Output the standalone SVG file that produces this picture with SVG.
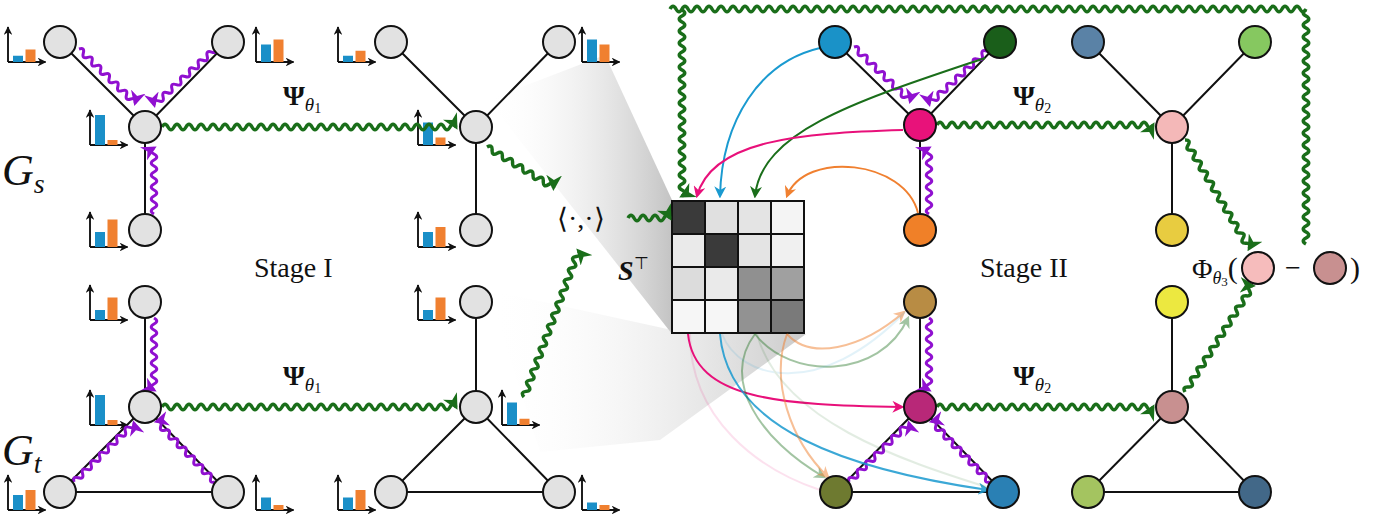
<svg xmlns="http://www.w3.org/2000/svg" xmlns:xlink="http://www.w3.org/1999/xlink" width="1373" height="520" viewBox="0 0 1373 520">
<style>
.n{stroke:#111;stroke-width:2}
.e{stroke:#111;stroke-width:2;fill:none}
.wp{fill:none;stroke:#9010d0;stroke-width:3}
.wg{fill:none;stroke:#1a6e1a;stroke-width:3.5}
.ax{fill:none;stroke:#111;stroke-width:1.5}
.t{font-family:"Liberation Serif",serif;fill:#111}
.c{fill:none;stroke-width:2}
</style>
<defs>
<marker id="mp" viewBox="0 0 10 10" refX="8" refY="5" markerWidth="5" markerHeight="5" orient="auto" markerUnits="strokeWidth"><path d="M0 0L10 5L0 10L3 5z" fill="#9010d0"/></marker>
<marker id="mg" viewBox="0 0 10 10" refX="8" refY="5" markerWidth="4.5" markerHeight="4.5" orient="auto" markerUnits="strokeWidth"><path d="M0 0L10 5L0 10L3 5z" fill="#1a6e1a"/></marker>
<marker id="ma" viewBox="0 0 10 10" refX="9" refY="5" markerWidth="7" markerHeight="7" orient="auto" markerUnits="userSpaceOnUse"><path d="M0 0L10 5L0 10L3 5z" fill="#111"/></marker>
<marker id="mc" viewBox="0 0 10 10" refX="8" refY="5" markerWidth="6" markerHeight="6" orient="auto" markerUnits="strokeWidth"><path d="M0 0L10 5L0 10L3 5z" fill="context-stroke"/></marker>
<path id="w42" d="M0 0q3 -5.5 6 0t6 0t6 0t6 0t6 0t6 0t6 0"/>
<path id="w66" d="M0 0q3 -5.5 6 0t6 0t6 0t6 0t6 0t6 0t6 0t6 0t6 0t6 0t6 0"/>
<path id="w72" d="M0 0q3 -5.5 6 0t6 0t6 0t6 0t6 0t6 0t6 0t6 0t6 0t6 0t6 0t6 0"/>
<path id="w78" d="M0 0q3 -5.5 6 0t6 0t6 0t6 0t6 0t6 0t6 0t6 0t6 0t6 0t6 0t6 0t6 0"/>
<path id="w84" d="M0 0q3 -5.5 6 0t6 0t6 0t6 0t6 0t6 0t6 0t6 0t6 0t6 0t6 0t6 0t6 0t6 0"/>
<path id="w126" d="M0 0q3 -5.5 6 0t6 0t6 0t6 0t6 0t6 0t6 0t6 0t6 0t6 0t6 0t6 0t6 0t6 0t6 0t6 0t6 0t6 0t6 0t6 0t6 0"/>
<path id="w156" d="M0 0q3 -5.5 6 0t6 0t6 0t6 0t6 0t6 0t6 0t6 0t6 0t6 0t6 0t6 0t6 0t6 0t6 0t6 0t6 0t6 0t6 0t6 0t6 0t6 0t6 0t6 0t6 0t6 0"/>
<path id="w186" d="M0 0q3 -5.5 6 0t6 0t6 0t6 0t6 0t6 0t6 0t6 0t6 0t6 0t6 0t6 0t6 0t6 0t6 0t6 0t6 0t6 0t6 0t6 0t6 0t6 0t6 0t6 0t6 0t6 0t6 0t6 0t6 0t6 0t6 0"/>
<path id="w216" d="M0 0q3 -5.5 6 0t6 0t6 0t6 0t6 0t6 0t6 0t6 0t6 0t6 0t6 0t6 0t6 0t6 0t6 0t6 0t6 0t6 0t6 0t6 0t6 0t6 0t6 0t6 0t6 0t6 0t6 0t6 0t6 0t6 0t6 0t6 0t6 0t6 0t6 0t6 0"/>
<path id="w234" d="M0 0q3 -5.5 6 0t6 0t6 0t6 0t6 0t6 0t6 0t6 0t6 0t6 0t6 0t6 0t6 0t6 0t6 0t6 0t6 0t6 0t6 0t6 0t6 0t6 0t6 0t6 0t6 0t6 0t6 0t6 0t6 0t6 0t6 0t6 0t6 0t6 0t6 0t6 0t6 0t6 0t6 0"/>
<path id="w294" d="M0 0q3 -5.5 6 0t6 0t6 0t6 0t6 0t6 0t6 0t6 0t6 0t6 0t6 0t6 0t6 0t6 0t6 0t6 0t6 0t6 0t6 0t6 0t6 0t6 0t6 0t6 0t6 0t6 0t6 0t6 0t6 0t6 0t6 0t6 0t6 0t6 0t6 0t6 0t6 0t6 0t6 0t6 0t6 0t6 0t6 0t6 0t6 0t6 0t6 0t6 0t6 0"/>
<path id="w312" d="M0 0q3 -5.5 6 0t6 0t6 0t6 0t6 0t6 0t6 0t6 0t6 0t6 0t6 0t6 0t6 0t6 0t6 0t6 0t6 0t6 0t6 0t6 0t6 0t6 0t6 0t6 0t6 0t6 0t6 0t6 0t6 0t6 0t6 0t6 0t6 0t6 0t6 0t6 0t6 0t6 0t6 0t6 0t6 0t6 0t6 0t6 0t6 0t6 0t6 0t6 0t6 0t6 0t6 0t6 0t6 0t6 0"/>
<linearGradient id="g1" x1="0" y1="0" x2="1" y2="0"><stop offset="0" stop-color="#fff" stop-opacity="0"/><stop offset="1" stop-color="#aaa" stop-opacity="0.7"/></linearGradient>
<linearGradient id="g2" x1="0" y1="0" x2="1" y2="0"><stop offset="0" stop-color="#fff" stop-opacity="0"/><stop offset="1" stop-color="#b4b4b4" stop-opacity="0.7"/></linearGradient>
<g id="ch"><path class="ax" d="M0 0V-28" marker-end="url(#ma)"/><path class="ax" d="M0 0H30" marker-end="url(#ma)"/></g>
</defs>
<rect width="1373" height="520" fill="#fff"/>
<g id="shade">
<polygon points="488,100 605,55 672,200 672,334" fill="url(#g1)"/>
<polygon points="488,290 672,330 806,334 660,440 540,452" fill="url(#g2)"/>
</g>
<g id="edges">
<path class="e" d="M60 42L145 127L228 42M145 127V230"/>
<path class="e" d="M391 42L476 127L559 42M476 127V230"/>
<path class="e" d="M145 302V407L60 492H228L145 407"/>
<path class="e" d="M476 302V407L391 492H559L476 407"/>
<path class="e" d="M835 42L920 125L1000 42M920 125V230"/>
<path class="e" d="M1088 42L1172 127L1255 42M1172 127V230"/>
<path class="e" d="M920 302V407L836 492H1003L920 407"/>
<path class="e" d="M1172 302V407L1088 492H1255L1172 407"/>
</g>
<g id="charts">
<g transform="translate(8,62) scale(1.25)"><use href="#ch"/><rect x="4" y="-5" width="8" height="5" fill="#1a8fc8"/><rect x="14" y="-10" width="8" height="10" fill="#f08030"/></g>
<g transform="translate(256,62) scale(1.25)"><use href="#ch"/><rect x="4" y="-14" width="8" height="14" fill="#1a8fc8"/><rect x="14" y="-18" width="8" height="18" fill="#f08030"/></g>
<g transform="translate(90,145) scale(1.25)"><use href="#ch"/><rect x="4" y="-24" width="8" height="24" fill="#1a8fc8"/><rect x="14" y="-4" width="8" height="4" fill="#f08030"/></g>
<g transform="translate(90,247) scale(1.25)"><use href="#ch"/><rect x="4" y="-12" width="8" height="12" fill="#1a8fc8"/><rect x="14" y="-22" width="8" height="22" fill="#f08030"/></g>
<g transform="translate(338,62) scale(1.25)"><use href="#ch"/><rect x="4" y="-5" width="8" height="5" fill="#1a8fc8"/><rect x="14" y="-9" width="8" height="9" fill="#f08030"/></g>
<g transform="translate(582,62) scale(1.25)"><use href="#ch"/><rect x="4" y="-18" width="8" height="18" fill="#1a8fc8"/><rect x="14" y="-14" width="8" height="14" fill="#f08030"/></g>
<g transform="translate(418,145) scale(1.25)"><use href="#ch"/><rect x="4" y="-18" width="8" height="18" fill="#1a8fc8"/><rect x="14" y="-6" width="8" height="6" fill="#f08030"/></g>
<g transform="translate(418,247) scale(1.25)"><use href="#ch"/><rect x="4" y="-12" width="8" height="12" fill="#1a8fc8"/><rect x="14" y="-16" width="8" height="16" fill="#f08030"/></g>
<g transform="translate(90,320) scale(1.25)"><use href="#ch"/><rect x="4" y="-8" width="8" height="8" fill="#1a8fc8"/><rect x="14" y="-18" width="8" height="18" fill="#f08030"/></g>
<g transform="translate(90,425) scale(1.25)"><use href="#ch"/><rect x="4" y="-24" width="8" height="24" fill="#1a8fc8"/><rect x="14" y="-4" width="8" height="4" fill="#f08030"/></g>
<g transform="translate(8,510) scale(1.25)"><use href="#ch"/><rect x="4" y="-12" width="8" height="12" fill="#1a8fc8"/><rect x="14" y="-16" width="8" height="16" fill="#f08030"/></g>
<g transform="translate(256,510) scale(1.25)"><use href="#ch"/><rect x="4" y="-10" width="8" height="10" fill="#1a8fc8"/><rect x="14" y="-4" width="8" height="4" fill="#f08030"/></g>
<g transform="translate(418,320) scale(1.25)"><use href="#ch"/><rect x="4" y="-8" width="8" height="8" fill="#1a8fc8"/><rect x="14" y="-18" width="8" height="18" fill="#f08030"/></g>
<g transform="translate(502,425) scale(1.25)"><use href="#ch"/><rect x="4" y="-18" width="8" height="18" fill="#1a8fc8"/><rect x="14" y="-5" width="8" height="5" fill="#f08030"/></g>
<g transform="translate(338,510) scale(1.25)"><use href="#ch"/><rect x="4" y="-10" width="8" height="10" fill="#1a8fc8"/><rect x="14" y="-16" width="8" height="16" fill="#f08030"/></g>
<g transform="translate(582,510) scale(1.25)"><use href="#ch"/><rect x="4" y="-6" width="8" height="6" fill="#1a8fc8"/><rect x="14" y="-4" width="8" height="4" fill="#f08030"/></g>
</g>
<g id="matrix" stroke="#111" stroke-width="2">
<rect x="672" y="201" width="33" height="33" fill="#3a3a3a"/><rect x="705" y="201" width="33" height="33" fill="#e0e0e0"/><rect x="738" y="201" width="33" height="33" fill="#e4e4e4"/><rect x="771" y="201" width="33" height="33" fill="#f4f4f4"/>
<rect x="672" y="234" width="33" height="33" fill="#eaeaea"/><rect x="705" y="234" width="33" height="33" fill="#3a3a3a"/><rect x="738" y="234" width="33" height="33" fill="#e4e4e4"/><rect x="771" y="234" width="33" height="33" fill="#f0f0f0"/>
<rect x="672" y="267" width="33" height="33" fill="#dcdcdc"/><rect x="705" y="267" width="33" height="33" fill="#eaeaea"/><rect x="738" y="267" width="33" height="33" fill="#909090"/><rect x="771" y="267" width="33" height="33" fill="#a0a0a0"/>
<rect x="672" y="300" width="33" height="33" fill="#f6f6f6"/><rect x="705" y="300" width="33" height="33" fill="#f6f6f6"/><rect x="738" y="300" width="33" height="33" fill="#929292"/><rect x="771" y="300" width="33" height="33" fill="#7a7a7a"/>
</g>
<g id="connectors">
<g class="wp" marker-end="url(#mp)">
<use href="#w78" transform="translate(79,49) rotate(44)"/>
<use href="#w84" transform="translate(216,48) rotate(137.3)"/>
<use href="#w66" transform="translate(154,214) rotate(-90)"/>
<use href="#w72" transform="translate(154,318) rotate(90)"/>
<use href="#w84" transform="translate(74,482) rotate(-44.5)"/>
<use href="#w84" transform="translate(215,482) rotate(-134)"/>
<use href="#w78" transform="translate(854,47) rotate(44)"/>
<use href="#w84" transform="translate(991,47) rotate(137.3)"/>
<use href="#w66" transform="translate(929,214) rotate(-90)"/>
<use href="#w72" transform="translate(929,318) rotate(90)"/>
<use href="#w84" transform="translate(849,482) rotate(-44.5)"/>
<use href="#w84" transform="translate(990,482) rotate(-134)"/>
</g>
<g class="wg" marker-end="url(#mg)">
<use href="#w294" transform="translate(162,127)"/>
<use href="#w294" transform="translate(162,407)"/>
<use href="#w216" transform="translate(937,125)"/>
<use href="#w216" transform="translate(937,407)"/>
<use href="#w78" transform="translate(487,147) rotate(31.5)"/>
<use href="#w156" transform="translate(524,397) rotate(-69.6)"/>
<use href="#w42" transform="translate(628,218)"/>
<use href="#w126" transform="translate(1185,140) rotate(59.4)"/>
<use href="#w126" transform="translate(1185,392) rotate(-57.5)"/>
<use href="#w186" transform="translate(682,10) rotate(90)"/>
</g>
<g class="wg">
<use href="#w234" transform="translate(1306,244) rotate(-90)"/>
<use href="#w312" transform="translate(1306,9) rotate(180)"/>
<use href="#w312" transform="translate(994,9) rotate(180)"/>
</g>
<g class="c" marker-end="url(#mc)">
<path stroke="#1a9ad0" d="M820 48C760 62 722 120 720 196"/>
<path stroke="#1a6e1a" d="M985 58C860 100 762 130 755 196"/>
<path stroke="#e8107a" d="M903 130C800 133 712 140 697 196"/>
<path stroke="#f08030" d="M918 213C905 160 805 150 787 196"/>
<path stroke="#e8107a" d="M688 334C695 400 780 405 902 407"/>
<path stroke="#1a9ad0" opacity="0.85" d="M720 334C728 430 850 470 988 490"/>
<path stroke="#1a6e1a" opacity="0.4" d="M755 334C720 380 760 440 824 477"/>
<path stroke="#1a6e1a" opacity="0.4" d="M755 334C790 380 880 380 908 318"/>
<path stroke="#f08030" opacity="0.5" d="M787 334C770 380 790 440 828 477"/>
<path stroke="#f08030" opacity="0.5" d="M787 334C810 360 860 350 904 312"/>
</g>
<g class="c" opacity="0.12">
<path stroke="#e8107a" d="M690 334C690 420 760 470 820 490"/>
<path stroke="#1a9ad0" d="M722 334C740 380 820 400 905 312"/>
<path stroke="#1a6e1a" d="M757 334C780 420 900 460 990 488"/>
</g>
</g>
<g id="nodes">
<g id="a1"><circle class="n" cx="60" cy="42" r="16" fill="#e2e2e2"/><circle class="n" cx="228" cy="42" r="16" fill="#e2e2e2"/><circle class="n" cx="145" cy="127" r="16" fill="#e2e2e2"/><circle class="n" cx="145" cy="230" r="16" fill="#e2e2e2"/></g>
<g id="a2"><circle class="n" cx="391" cy="42" r="16" fill="#e2e2e2"/><circle class="n" cx="559" cy="42" r="16" fill="#e2e2e2"/><circle class="n" cx="476" cy="127" r="16" fill="#e2e2e2"/><circle class="n" cx="476" cy="230" r="16" fill="#e2e2e2"/></g>
<g id="a3"><circle class="n" cx="145" cy="302" r="16" fill="#e2e2e2"/><circle class="n" cx="145" cy="407" r="16" fill="#e2e2e2"/><circle class="n" cx="60" cy="492" r="16" fill="#e2e2e2"/><circle class="n" cx="228" cy="492" r="16" fill="#e2e2e2"/></g>
<g id="a4"><circle class="n" cx="476" cy="302" r="16" fill="#e2e2e2"/><circle class="n" cx="476" cy="407" r="16" fill="#e2e2e2"/><circle class="n" cx="391" cy="492" r="16" fill="#e2e2e2"/><circle class="n" cx="559" cy="492" r="16" fill="#e2e2e2"/></g>
<g id="b1"><circle class="n" cx="835" cy="42" r="16" fill="#1a92c8"/><circle class="n" cx="1000" cy="42" r="16" fill="#1a5e1a"/><circle class="n" cx="920" cy="125" r="16" fill="#e8127a"/><circle class="n" cx="920" cy="230" r="16" fill="#f08028"/></g>
<g id="b2"><circle class="n" cx="1088" cy="42" r="16" fill="#5a82a6"/><circle class="n" cx="1255" cy="42" r="16" fill="#86c860"/><circle class="n" cx="1172" cy="127" r="16" fill="#f4b8b8"/><circle class="n" cx="1172" cy="230" r="16" fill="#e8cc40"/></g>
<g id="b3"><circle class="n" cx="920" cy="302" r="16" fill="#b88c44"/><circle class="n" cx="920" cy="407" r="16" fill="#b82878"/><circle class="n" cx="836" cy="492" r="16" fill="#6e7a30"/><circle class="n" cx="1003" cy="492" r="16" fill="#2a80b4"/></g>
<g id="b4"><circle class="n" cx="1172" cy="302" r="16" fill="#ece840"/><circle class="n" cx="1172" cy="407" r="16" fill="#c89090"/><circle class="n" cx="1088" cy="492" r="16" fill="#a4c460"/><circle class="n" cx="1255" cy="492" r="16" fill="#426888"/></g>
<g id="phi"><circle class="n" cx="1258" cy="268" r="16" fill="#f6bcbc"/><circle class="n" cx="1330" cy="268" r="16" fill="#c89090"/></g>
</g>
<g id="labels">
<text class="t" x="2" y="185" font-size="44" font-style="italic">G<tspan font-size="28" dy="8">s</tspan></text>
<text class="t" x="2" y="465" font-size="44" font-style="italic">G<tspan font-size="28" dy="8">t</tspan></text>
<text class="t" x="283" y="105" font-size="28" font-weight="bold">Ψ<tspan font-size="19" font-weight="normal" font-style="italic" dy="6">θ</tspan><tspan font-size="14" font-weight="normal" dy="2">1</tspan></text>
<text class="t" x="283" y="385" font-size="28" font-weight="bold">Ψ<tspan font-size="19" font-weight="normal" font-style="italic" dy="6">θ</tspan><tspan font-size="14" font-weight="normal" dy="2">1</tspan></text>
<text class="t" x="1013" y="105" font-size="28" font-weight="bold">Ψ<tspan font-size="19" font-weight="normal" font-style="italic" dy="6">θ</tspan><tspan font-size="14" font-weight="normal" dy="2">2</tspan></text>
<text class="t" x="1013" y="385" font-size="28" font-weight="bold">Ψ<tspan font-size="19" font-weight="normal" font-style="italic" dy="6">θ</tspan><tspan font-size="14" font-weight="normal" dy="2">2</tspan></text>
<text class="t" x="254" y="277" font-size="28">Stage I</text>
<text class="t" x="980" y="277" font-size="28">Stage II</text>
<text class="t" x="557" y="228" font-size="28">⟨·,·⟩</text>
<text class="t" x="618" y="280" font-size="28" font-weight="bold" font-style="italic">S<tspan font-size="17" font-weight="normal" font-style="normal" dy="-11">⊤</tspan></text>
<text class="t" x="1192" y="278" font-size="28">Φ<tspan font-size="18" font-style="italic" dy="6">θ</tspan><tspan font-size="13" dy="2">3</tspan><tspan font-size="30" dy="-8">(</tspan></text>
<text class="t" x="1285" y="277" font-size="28">−</text>
<text class="t" x="1350" y="278" font-size="30">)</text>
</g>
</svg>
